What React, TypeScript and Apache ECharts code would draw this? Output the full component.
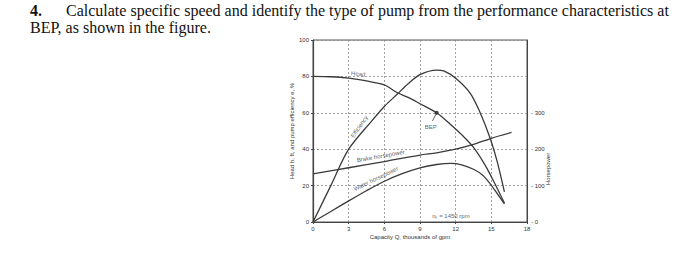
import React, { useEffect, useRef } from "react";
import * as echarts from "echarts";

// ---- data (capacity Q in thousands of gpm) ----
const xTicks = [0, 3, 6, 9, 12, 15, 18];
const leftTicks = [0, 20, 40, 60, 80, 100];
const rightTickLabels = [0, 100, 200, 300];

const headQ = [0, 1.5, 3, 4.5, 6, 7.1, 8, 9, 10.4, 11.5, 12.5, 13.5, 14.5, 15.3, 16.1];
const headH = [80, 79.8, 79, 77.5, 75.3, 71, 68.5, 65, 60, 54, 48, 41, 31, 21, 10.4];

const effQ = [0, 1.5, 3, 5, 6, 7.1, 8, 9, 10.4, 11, 12, 13.2, 14, 14.9, 15.5, 16.1];
const effV = [0, 20, 40, 56, 63.5, 70.3, 76, 81, 83.5, 83, 79, 71, 61, 46, 33, 16.5];

const bhpQ = [0, 3, 6, 9, 10.4, 12, 13.5, 15, 16.7];
const bhpV = [132, 149, 166, 184, 190, 200, 213, 230, 246];

const whpQ = [0, 1.5, 3, 4.5, 6, 7.5, 9, 10.4, 11.6, 12.5, 13.5, 14.3, 14.9, 15.5, 16.1];
const whpV = [0, 29, 58, 86, 112, 133, 149, 158, 161, 157, 145, 128, 105, 78, 50];

const bep = [10.4, 60];
const bepLeader = [[10.4, 60], [10.05, 55.5]];

const annotations = [
  { name: "Head", value: [3.8, 81.4], rotate: -6 },
  { name: "Efficiency", value: [3.9, 52.4], rotate: 55 },
  { name: "BEP", value: [9.9, 52.2], rotate: 0 },
  { name: "Brake horsepower", value: [5.7, 36.2], rotate: 10 },
  { name: "Water horsepower", value: [5.3, 23.8], rotate: 26 },
  { name: "nₛ = 1450 rpm", value: [11.6, 3.3], rotate: 0 },
];

const zip = (a: number[], b: number[]) => a.map((v, i) => [v, b[i]]);

const LINE = "#3a3a3a";
const TXT = "#333";
const SANS = "Liberation Sans, Arial, sans-serif";
const SERIF = "Liberation Serif, Times New Roman, serif";

export default function App() {
  const ref = useRef<HTMLDivElement>(null);
  useEffect(() => {
    if (!ref.current) return;
    const chart = echarts.init(ref.current, undefined, { renderer: "svg" });
    const lineSeries = (data: number[][], yAxisIndex: number) => ({
      type: "line",
      data,
      yAxisIndex,
      smooth: 0.3,
      symbol: "none",
      lineStyle: { color: LINE, width: 1.3 },
      silent: true,
    });
    const titleStyle = (text: string, bold = false) => ({
      text,
      font: (bold ? "bold " : "") + "16px " + SERIF,
      fill: "#111",
      verticalAlign: "middle",
      lineHeight: 14,
    });
    const option: any = {
      animation: false,
      backgroundColor: "#fff",
      grid: {
        left: 313,
        top: 40,
        width: 214,
        height: 182,
        show: true,
        borderColor: "#555",
        borderWidth: 1,
        backgroundColor: "transparent",
      },
      xAxis: {
        type: "value",
        min: 0,
        max: 18,
        interval: 3,
        axisLine: { show: true, lineStyle: { color: "#444", width: 1 } },
        axisTick: { show: true, length: 2, lineStyle: { color: "#444" } },
        axisLabel: {
          color: TXT,
          fontSize: 6,
          fontFamily: SANS,
          margin: 4,
          formatter: (v: number) => (xTicks.includes(v) ? String(v) : ""),
        },
        splitLine: { show: true, lineStyle: { color: "#8a8a8a", width: 0.8, type: [2, 2] } },
      },
      yAxis: [
        {
          type: "value",
          min: 0,
          max: 100,
          interval: 20,
          name: "Head h, ft, and pump efficiency e, %",
          nameLocation: "middle",
          nameGap: 14,
          nameTextStyle: { color: TXT, fontSize: 6, fontFamily: SANS },
          axisLine: { show: true, lineStyle: { color: "#444", width: 1.2 } },
          axisTick: { show: true, length: 2, lineStyle: { color: "#444" } },
          axisLabel: {
            color: TXT,
            fontSize: 6,
            fontFamily: SANS,
            margin: 4,
            formatter: (v: number) => (leftTicks.includes(v) ? String(v) : ""),
          },
          splitLine: { show: true, lineStyle: { color: "#8a8a8a", width: 0.8, type: [2, 2] } },
        },
        {
          type: "value",
          min: 0,
          max: 500,
          interval: 100,
          position: "right",
          axisLine: { show: true, lineStyle: { color: "#444", width: 1 } },
          axisTick: { show: false },
          axisLabel: {
            color: TXT,
            fontSize: 6,
            fontFamily: SANS,
            margin: 4,
            formatter: (v: number) => (rightTickLabels.includes(v) ? "- " + String(v) : ""),
          },
          splitLine: { show: false },
        },
      ],
      series: [
        lineSeries(zip(headQ, headH), 0),
        lineSeries(zip(effQ, effV), 0),
        lineSeries(zip(bhpQ, bhpV), 1),
        lineSeries(zip(whpQ, whpV), 1),
        {
          type: "line",
          data: bepLeader,
          yAxisIndex: 0,
          symbol: "none",
          lineStyle: { color: LINE, width: 0.8 },
          silent: true,
        },
        {
          type: "scatter",
          data: [bep],
          yAxisIndex: 0,
          symbolSize: 4,
          itemStyle: { color: "#111" },
          silent: true,
        },
        {
          type: "scatter",
          yAxisIndex: 0,
          symbolSize: 1,
          itemStyle: { color: "rgba(0,0,0,0)" },
          silent: true,
          label: {
            show: true,
            position: "inside",
            color: TXT,
            fontSize: 6,
            fontFamily: SANS,
            formatter: (p: any) => p.name,
          },
          data: annotations.map((a) => ({
            name: a.name,
            value: a.value,
            label: { rotate: a.rotate },
          })),
        },
      ],
      graphic: [
        { type: "text", x: 30, y: 10, style: titleStyle("4.", true) },
        {
          type: "text",
          x: 66,
          y: 10,
          style: titleStyle(
            "Calculate specific speed and identify the type of pump from the performance characteristics at"
          ),
        },
        { type: "text", x: 30, y: 27, style: titleStyle("BEP, as shown in the figure.") },
        {
          type: "text",
          x: 410,
          y: 237,
          style: {
            text: "Capacity Q, thousands of gpm",
            font: "6px " + SANS,
            fill: TXT,
            align: "center",
            verticalAlign: "middle",
          },
        },
        {
          type: "text",
          x: 548,
          y: 169,
          rotation: Math.PI / 2,
          style: {
            text: "Horsepower",
            font: "6px " + SANS,
            fill: TXT,
            align: "center",
            verticalAlign: "middle",
          },
        },
      ],
    };
    chart.setOption(option);
    return () => chart.dispose();
  }, []);
  return (
    <div
      ref={ref}
      style={{ position: "fixed", left: 0, top: 0, width: 700, height: 276, background: "#fff" }}
    />
  );
}
